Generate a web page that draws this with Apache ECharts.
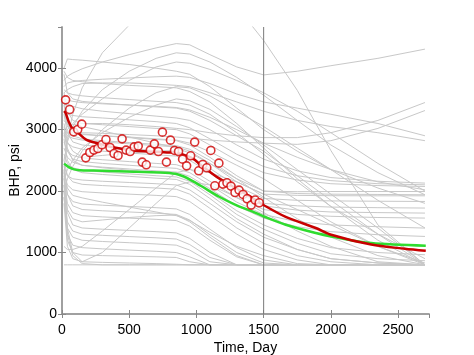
<!DOCTYPE html>
<html>
<head>
<meta charset="utf-8">
<script src="https://cdn.jsdelivr.net/npm/echarts@6/dist/echarts.min.js"></script>
<style>
html,body{margin:0;padding:0;background:#fff;}
#c{width:474px;height:355px;}
</style>
</head>
<body>
<div id="c"></div>
<script>
// ---- observed BHP (red circles)
const obsDays = [27,57,87,117,147,177,207,237,267,297,327,357,387,417,447,477,507,537,567,597,627,657,687,717,747,777,807,837,867,897,927,957,987,1017,1047,1077,1107,1137,1167,1197,1227,1257,1287,1317,1347,1377,1407,1437,1467];
const obsBHP  = [3485,3327,2964,3002,3089,2541,2628,2667,2693,2753,2839,2709,2611,2579,2850,2667,2644,2720,2732,2472,2428,2667,2769,2644,2959,2472,2829,2661,2644,2520,2411,2574,2797,2330,2433,2379,2661,2086,2455,2114,2135,2081,1977,2016,1945,1875,1772,1854,1810];

// ---- red curve
const redDays = [15,27,50,80,114,182,284,358,532,781,841,918,980,1017,1080,1166,1291,1415,1502,1664,1888,2002,2300,2550,2706];
const redBHP  = [3300,3270,3130,3010,2959,2834,2769,2720,2661,2628,2625,2580,2520,2450,2346,2211,2049,1890,1770,1580,1400,1290,1130,1062,1029];

// ---- green curve
const greenDays = [15,22,50,84,134,234,483,731,843,906,955,1042,1166,1291,1415,1502,1664,1888,2002,2300,2706];
const greenBHP  = [2445,2435,2390,2358,2340,2335,2319,2302,2281,2237,2184,2075,1912,1777,1669,1587,1452,1317,1262,1154,1111];

// ---- ensemble (gray) curves, sampled at grayDays
const grayDays = [15,40,80,150,300,500,700,850,950,1100,1300,1500,1750,2000,2350,2700];
const grayLines = [
  [3800,3870,3920,3990,4100,4220,4330,4400,4380,4220,4020,3890,3950,4040,4160,4310],
  [4000,4150,4140,4130,4100,4060,4000,3950,3900,3700,3350,3000,2650,2350,2050,1800],
  [3700,3760,3780,3800,3820,3840,3860,3870,3850,3750,3580,3450,3350,3250,3100,2900],
  [3600,3650,3700,3750,3760,3760,3740,3720,3700,3600,3450,3300,3150,3050,2950,2820],
  [3950,3850,3800,3780,3750,3720,3700,3680,3620,3450,3100,2700,2200,1750,1300,900],
  [3650,3600,3570,3550,3520,3490,3460,3440,3400,3250,2950,2600,2150,1750,1200,800],
  [3500,3480,3460,3440,3420,3400,3380,3360,3320,3200,3000,2780,2550,2350,2150,2021],
  [2900,3000,3100,3250,3500,3800,4020,4100,4080,3980,3800,3600,3300,2950,2450,2000],
  [2500,2800,3050,3300,3650,3950,4160,4250,4230,4100,3850,3560,3150,2750,2300,1940],
  [2300,2850,3250,3680,4250,4700,5300,5500,5550,5400,5000,4450,3640,2660,1450,800],
  [3000,3050,3080,3100,3100,3080,3050,3020,3000,2950,2900,2870,2870,2950,3150,3441],
  [2950,2950,2950,2950,2940,2920,2900,2880,2860,2830,2800,2780,2760,2820,3020,3311],
  [2000,2200,2400,2650,3000,3350,3600,3700,3680,3550,3300,3050,2700,2350,1850,1400],
  [2200,2350,2500,2700,2950,3200,3400,3500,3470,3330,3050,2750,2350,1950,1400,800],
  [3500,3420,3380,3340,3300,3260,3220,3190,3150,3000,2750,2520,2330,2220,2160,2130],
  [3300,3250,3230,3210,3190,3160,3130,3100,3030,2850,2600,2400,2250,2170,2120,2102],
  [3600,3300,3150,3100,3080,3050,3020,3000,2930,2750,2500,2300,2180,2120,2090,2075],
  [3150,3080,3050,3050,2980,2880,2780,2700,2620,2450,2200,2000,1990,1993,1993,1993],
  [3400,3100,2980,2930,2900,2870,2840,2820,2750,2550,2250,2000,1960,1950,1945,1940],
  [3000,2900,2860,2830,2800,2770,2740,2720,2650,2450,2150,1950,1930,1925,1923,1923],
  [3250,2950,2800,2750,2720,2690,2660,2640,2570,2370,2080,1880,1850,1840,1835,1831],
  [2900,2780,2720,2680,2650,2620,2590,2570,2500,2300,2020,1800,1760,1740,1730,1724],
  [3100,2800,2650,2550,2580,2620,2650,2660,2560,2300,1980,1760,1690,1660,1650,1642],
  [2800,2650,2580,2540,2510,2480,2450,2430,2360,2160,1890,1700,1620,1590,1570,1561],
  [2950,2650,2520,2480,2450,2420,2390,2370,2300,2100,1820,1620,1500,1450,1420,1398],
  [2700,2550,2470,2420,2390,2360,2330,2310,2240,2040,1760,1560,1420,1340,1290,1262],
  [3050,2700,2500,2420,2380,2340,2300,2280,2200,1980,1680,1450,1230,1080,1000,964],
  [2600,2450,2380,2340,2310,2280,2250,2230,2160,1940,1620,1380,1150,980,900,867],
  [2850,2500,2350,2300,2270,2240,2210,2190,2110,1880,1550,1300,1050,900,830,800],
  [3500,3100,2900,2850,2820,2790,2760,2740,2680,2500,2200,1900,1550,1250,950,800],
  [3300,3050,2950,2920,2900,2880,2850,2830,2780,2640,2420,2200,1850,1500,1100,800],
  [3900,3600,3500,3460,3430,3400,3370,3350,3300,3150,2900,2650,2250,1850,1300,800],
  [2400,2250,2200,2180,2160,2140,2120,2100,2020,1800,1500,1250,1050,900,830,800],
  [2500,2250,2150,2110,2090,2070,2050,2030,1950,1720,1400,1150,950,850,800,800],
  [2300,2100,2020,1990,1970,1950,1930,1910,1830,1600,1300,1050,880,800,800,800],
  [2350,2050,1930,1890,1820,1740,1660,1600,1520,1330,1100,950,820,800,800,800],
  [2200,1950,1830,1790,1770,1750,1730,1710,1620,1380,1080,880,800,800,800,800],
  [2450,1950,1760,1700,1680,1660,1640,1620,1530,1290,1000,830,800,800,800,800],
  [2250,1800,1650,1600,1580,1560,1540,1520,1430,1200,930,800,800,800,800,800],
  [2100,1700,1550,1500,1530,1570,1600,1610,1500,1250,950,800,800,800,800,800],
  [2300,1650,1450,1400,1380,1360,1340,1320,1230,1000,800,800,800,800,800,800],
  [2000,1500,1350,1300,1280,1260,1240,1220,1130,920,800,800,800,800,800,800],
  [2200,1400,1250,1200,1180,1160,1140,1120,1040,850,800,800,800,800,800,800],
  [1900,1300,1120,1080,1060,1040,1020,1000,930,800,800,800,800,800,800,800],
  [2100,1200,1000,960,950,940,930,920,850,800,800,800,800,800,800,800],
  [1800,1100,900,850,840,830,820,810,800,800,800,800,800,800,800,800],
  [2000,1300,950,820,800,800,800,800,800,800,800,800,800,800,800,800],
  [1900,1400,1000,850,1000,1400,1800,2090,2150,2100,1900,1650,1350,1100,850,800],
  [1100,1050,1050,1100,1350,1700,2050,2300,2350,2300,2150,1950,1700,1450,1100,829],
  [800,800,800,800,800,800,800,800,800,800,800,800,800,800,800,800]
];

// ---- vertical marker (end of history)
const markerDay = 1500;

const series = [];
grayLines.forEach(vals => {
  series.push({
    type: 'line', data: grayDays.map((d, i) => [d, vals[i]]),
    symbol: 'none', silent: true, z: 1,
    lineStyle: { color: '#c8c8c8', width: 1 }
  });
});
series.push({
  type: 'line', data: [[markerDay, 0], [markerDay, 4670]],
  symbol: 'none', silent: true, z: 2,
  lineStyle: { color: '#7a7a7a', width: 1 }
});
series.push({
  type: 'line', data: greenDays.map((d, i) => [d, greenBHP[i]]),
  symbol: 'none', smooth: 0.3, z: 3,
  lineStyle: { color: '#2fdc2f', width: 2.5 }
});
series.push({
  type: 'line', data: redDays.map((d, i) => [d, redBHP[i]]),
  symbol: 'none', smooth: 0.3, z: 4,
  lineStyle: { color: '#c80000', width: 2.5 }
});
series.push({
  type: 'scatter', data: obsDays.map((d, i) => [d, obsBHP[i]]),
  symbol: 'circle', symbolSize: 8, z: 5,
  itemStyle: { color: '#ffffff', borderColor: '#d00000', borderWidth: 1.6 }
});

const axisFont = { fontFamily: 'Liberation Sans, Arial, sans-serif', fontSize: 14, color: '#000' };
const lineCol = { color: '#9a9a9a', width: 1.5 };

const chart = echarts.init(document.getElementById('c'), null, { renderer: 'canvas' });
chart.setOption({
  animation: false,
  backgroundColor: '#fff',
  grid: { left: 62, right: 45, top: 27, bottom: 41, show: false, containLabel: false, outerBoundsMode: 'none' },
  xAxis: [{
    type: 'value', min: 0, max: 2730, interval: 500, position: 'bottom',
    axisLine: { show: true, lineStyle: lineCol },
    axisTick: { show: true, inside: true, length: 4, lineStyle: { color: '#888' } },
    axisLabel: Object.assign({ margin: 9, showMaxLabel: false,
      formatter: v => (v % 500 === 0 ? String(v) : '') }, axisFont),
    splitLine: { show: false },
    name: 'Time, Day', nameLocation: 'middle', nameGap: 27, nameMoveOverlap: false,
    nameTextStyle: axisFont
  }, {
    type: 'value', min: 0, max: 2730, interval: 500, position: 'top',
    axisLine: { show: true, lineStyle: lineCol },
    axisTick: { show: true, inside: true, length: 4, lineStyle: { color: '#888' } },
    axisLabel: { show: false }, splitLine: { show: false }
  }],
  yAxis: [{
    type: 'value', min: 0, max: 4670, interval: 1000, position: 'left',
    axisLine: { show: true, lineStyle: lineCol },
    axisTick: { show: true, inside: true, length: 4, lineStyle: { color: '#888' } },
    axisLabel: Object.assign({ margin: 5, showMaxLabel: false,
      formatter: v => (v % 1000 === 0 ? String(v) : '') }, axisFont),
    splitLine: { show: false },
    name: 'BHP, psi', nameLocation: 'middle', nameGap: 40, nameRotate: 90, nameMoveOverlap: false,
    nameTextStyle: axisFont
  }, {
    type: 'value', min: 0, max: 4670, interval: 1000, position: 'right',
    axisLine: { show: true, lineStyle: lineCol },
    axisTick: { show: true, inside: true, length: 4, lineStyle: { color: '#888' } },
    axisLabel: { show: false }, splitLine: { show: false }
  }],
  series: series
});
</script>
</body>
</html>
